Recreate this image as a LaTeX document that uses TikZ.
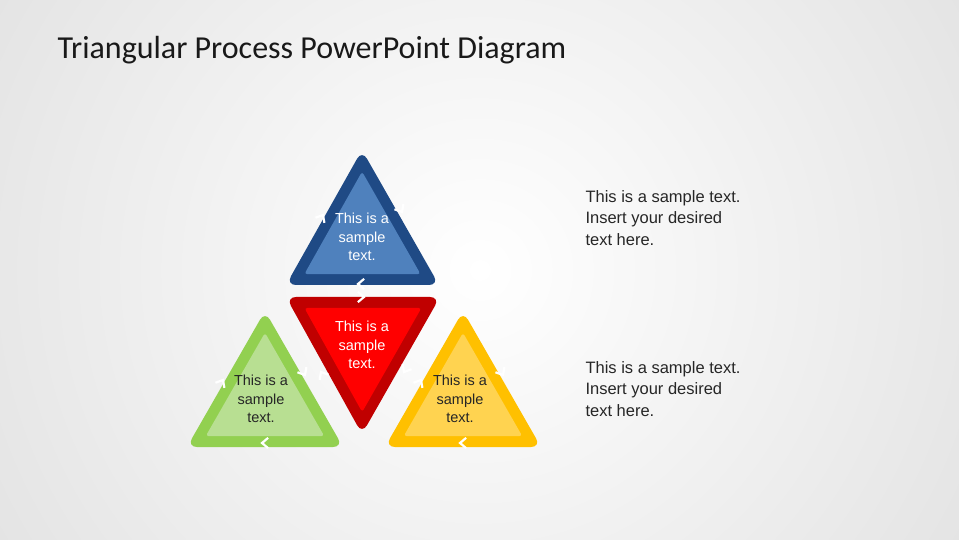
\documentclass[tikz,border=0pt]{standalone}
\usepackage{fontspec}
\setmainfont{Liberation Sans}
\newfontfamily\titlefont{Carlito}
\usetikzlibrary{calc}
\definecolor{bD}{HTML}{1F4A85}\definecolor{bL}{HTML}{4F81BD}
\definecolor{rD}{HTML}{C00000}\definecolor{rL}{HTML}{FF0000}
\definecolor{gD}{HTML}{92D050}\definecolor{gL}{HTML}{B8DF92}
\definecolor{yD}{HTML}{FFC000}\definecolor{yL}{HTML}{FFD350}
\newcommand{\mytri}[6]{%
  \coordinate (#1a) at #2; \coordinate (#1b) at #3; \coordinate (#1c) at #4;
  \coordinate (#1m) at ($1/3*(#1a)+1/3*(#1b)+1/3*(#1c)$);
  \fill[#5, rounded corners=10pt] (#1a) -- (#1b) -- (#1c) -- cycle;
  \fill[#6, rounded corners=3pt] ($(#1m)!0.76!(#1a)$) -- ($(#1m)!0.76!(#1b)$) -- ($(#1m)!0.76!(#1c)$) -- cycle;}
\newcommand{\mychev}[3]{\coordinate (q) at #1;
  \draw[chevst] ($(q)+(#2+140:8)$) -- (q) -- ($(q)+(#2-140:8)$);}
\tikzset{chevst/.style={white,line width=2.2pt},
  txt/.style={align=center,font=\fontsize{14.5}{18.5}\selectfont},
  side/.style={align=left,anchor=north west,font=\fontsize{16.5}{21.5}\selectfont,text=black!85}}
\begin{document}
\begin{tikzpicture}[x=1pt,y=-1pt]
\useasboundingbox (0,0) rectangle (959,540);
\begin{scope}
\clip (0,0) rectangle (959,540);
\shade[inner color=white,outer color=black!12] (-150,-350) rectangle (1110,890);
\end{scope}
\node[anchor=west,font=\titlefont\fontsize{32}{34}\selectfont,text=black!90] (title) at (54,50) {Triangular Process PowerPoint Diagram};
\mytri{B}{(362,150)}{(286,285)}{(439,285)}{bD}{bL}
\mytri{G}{(265,311)}{(187,447)}{(343,447)}{gD}{gL}
\mytri{Y}{(463,311)}{(385,447)}{(541,447)}{yD}{yL}
\mytri{R}{(286,297)}{(440,297)}{(362,434)}{rD}{rL}
\node[txt,text=white] (tb) at (362,237) {This is a\\sample\\text.};
\node[txt,text=white] (tr) at (362,345) {This is a\\sample\\text.};
\node[txt,text=black!85] (tg) at (261,399) {This is a\\sample\\text.};
\node[txt,text=black!85] (ty) at (460,399) {This is a\\sample\\text.};
\mychev{(323,215)}{-60}{}\mychev{(402,212)}{60}{}\mychev{(358,284)}{180}{}
\mychev{(364,297)}{0}{}\mychev{(404,372)}{120}{}\mychev{(321,372)}{240}{}
\mychev{(223,380)}{-60}{}\mychev{(305,375)}{60}{}\mychev{(262,443)}{180}{}
\mychev{(421,380)}{-60}{}\mychev{(503,375)}{60}{}\mychev{(460,443)}{180}{}
\node[side] (s1) at (582,187) {This is a sample text.\\Insert your desired\\text here.};
\node[side] (s2) at (582,358) {This is a sample text.\\Insert your desired\\text here.};
\end{tikzpicture}
\end{document}
